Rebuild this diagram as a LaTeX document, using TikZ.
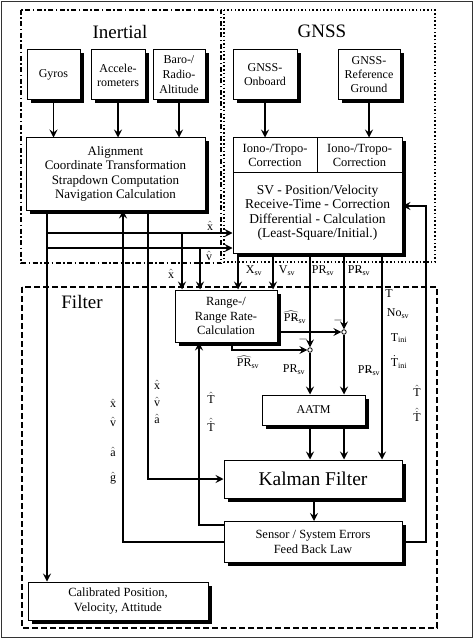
\documentclass[tikz,border=0pt]{standalone}
\usepackage{fontspec}
\setmainfont{Liberation Serif}
\usetikzlibrary{arrows.meta,shadows,calc}
\begin{document}
\begin{tikzpicture}[x=1pt,y=-1pt,
  box/.style={draw, line width=1pt, fill=white, align=center, inner sep=1pt,
    font=\fontsize{12}{14}\selectfont,
    drop shadow={shadow xshift=3.5pt,shadow yshift=-3.5pt,fill=black,opacity=1}},
  bigtxt/.style={font=\fontsize{13}{14.3}\selectfont},
  conn/.style={line width=1.1pt},
  arr/.style={conn, -{Stealth[length=8pt,width=8pt,inset=3pt]}},
  lbl/.style={font=\fontsize{12}{13}\selectfont, inner sep=0pt},
  ttl/.style={font=\fontsize{19}{20}\selectfont, inner sep=0pt},
  junc/.style={circle, draw, fill=white, line width=0.8pt, minimum size=4.5pt, inner sep=0pt},
  frameA/.style={line width=1.8pt, dash pattern=on 5pt off 2.5pt on 1.5pt off 2.5pt},
  frameB/.style={line width=1.8pt, dash pattern=on 1.5pt off 2.2pt},
  frameC/.style={line width=1.8pt, dash pattern=on 6pt off 3pt}]
\useasboundingbox (0,0) rectangle (474,639);
\draw[line width=1.5pt, black!80] (1.5,1.5) rectangle (472.5,637.5);

% group frames
\draw[frameA] (21,10) rectangle (221,263);
\draw[frameB] (224,10) rectangle (435,262);
\draw[frameC] (22,287) rectangle (437,628);
\node[ttl] (tI) at (120,32) {Inertial};
\node[ttl] (tG) at (322,31) {GNSS};
\node[ttl] (tF) at (82,302) {Filter};

% boxes
\node[box, minimum width=53pt, minimum height=50pt] (gyros) at (53.5,75) {Gyros};
\node[box, minimum width=54pt, minimum height=50pt] (accel) at (118,75) {Accele-\\rometers};
\node[box, minimum width=52pt, minimum height=50pt, font=\fontsize{12}{15}\selectfont] (baro) at (179,75) {Baro-/\\Radio-\\Altitude};
\node[box, bigtxt, minimum width=179pt, minimum height=72pt] (align) at (115.5,174) {Alignment\\Coordinate Transformation\\Strapdown Computation\\Navigation Calculation};
\node[box, minimum width=64pt, minimum height=50pt] (onboard) at (265,75) {GNSS-\\Onboard};
\node[box, minimum width=62pt, minimum height=50pt] (refground) at (369,75) {GNSS-\\Reference\\Ground};
\node[box, font=\fontsize{12.5}{14}\selectfont, minimum width=84pt, minimum height=35pt] (iono1) at (275,155.5) {Iono-/Tropo-\\Correction};
\node[box, font=\fontsize{12.5}{14}\selectfont, minimum width=85pt, minimum height=35pt] (iono2) at (359.5,155.5) {Iono-/Tropo-\\Correction};
\node[box, font=\fontsize{13.5}{14.5}\selectfont, minimum width=169pt, minimum height=80pt] (sv) at (317.5,213) {SV - Position/Velocity\\Receive-Time - Correction\\Differential - Calculation\\(Least-Square/Initial.)};
\node[box, font=\fontsize{12.5}{14.5}\selectfont, minimum width=102pt, minimum height=52pt] (range) at (226,316) {Range-/\\Range Rate-\\Calculation};
\node[box, minimum width=103pt, minimum height=30pt] (aatm) at (313.5,410) {AATM};
\node[box, minimum width=178pt, minimum height=38pt, font=\fontsize{19.5}{21}\selectfont] (kalman) at (313,479) {Kalman Filter};
\node[box, font=\fontsize{12.5}{15}\selectfont, minimum width=178pt, minimum height=41pt] (sensor) at (313,542) {Sensor / System Errors\\Feed Back Law};
\node[box, font=\fontsize{12.5}{15}\selectfont, minimum width=180pt, minimum height=38pt] (calib) at (118,601) {Calibrated Position,\\Velocity, Attitude};

% junctions
\node[junc] (j1) at (344,332) {};
\node[junc] (j2) at (310,350) {};

% sensor -> processing arrows
\draw[arr] (gyros.south) -- (gyros.south |- align.north);
\draw[arr] (accel.south) -- (accel.south |- align.north);
\draw[arr] (baro.south) -- (baro.south |- align.north);
\draw[arr] (onboard.south) -- (onboard.south |- iono1.north);
\draw[arr] (refground.south) -- (refground.south |- iono2.north);

% inertial outputs
\coordinate (cA) at (47,233);
\coordinate (cB) at (47,248);
\draw[arr] (align.south -| cA) -- (calib.north -| cA);
\draw[arr] (cA) -- (cA -| sv.west);
\draw[arr] (cB) -- (cB -| sv.west);
\coordinate (cX) at (182,233);
\coordinate (cV) at (200,248);
\draw[arr] (cX) -- (cX |- range.north);
\draw[arr] (cV) -- (cV |- range.north);
\coordinate (cK) at (148,0);
\draw[arr] (align.south -| cK) |- (kalman.west);
\coordinate (cG) at (123,0);
\draw[arr] (sensor.west) -| (align.south -| cG);
\coordinate (cT) at (199,525);
\draw[arr] (sensor.west |- cT) -| (range.south -| cT);

% GNSS outputs
\coordinate (s1) at (238,0);
\coordinate (s2) at (273,0);
\coordinate (tT) at (382,0);
\draw[arr] (sv.south -| s1) -- (range.north -| s1);
\draw[arr] (sv.south -| s2) -- (range.north -| s2);
\draw[arr] (sv.south -| j2) -- (j2.north);
\draw[arr] (sv.south -| j1) -- (j1.north);
\draw[arr] (sv.south -| tT) -- (kalman.north -| tT);
\draw[arr] (range.east |- j1) -- (j1.west);
\coordinate (r2) at (232,350);
\draw[arr] (range.south -| r2) |- (j2.west);
\draw[arr] (j1.south) -- (aatm.north -| j1);
\draw[arr] (j2.south) -- (aatm.north -| j2);
\draw[arr] (aatm.south -| j1) -- (kalman.north -| j1);
\draw[arr] (aatm.south -| j2) -- (kalman.north -| j2);
\coordinate (kk) at (314,0);
\draw[arr] (kalman.south -| kk) -- (sensor.north -| kk);
\coordinate (fb) at (426,206);
\draw[arr] (sensor.east) -| (fb) -- (fb -| sv.east);

% labels
\node[lbl] (lx1) at (210,226) {$\hat{\mathrm{x}}$};
\node[lbl] (lv1) at (209,256) {$\hat{\mathrm{v}}$};
\node[lbl] (lx2) at (171,274) {$\hat{\mathrm{x}}$};
\node[lbl] (lXsv) at (254,271) {$\mathrm{X}_{\mathrm{sv}}$};
\node[lbl] (lVsv) at (287,271) {$\mathrm{V}_{\mathrm{sv}}$};
\node[lbl] (lPR1) at (323,271) {$\mathrm{PR}_{\mathrm{sv}}$};
\node[lbl] (lPR2) at (359,271) {$\mathrm{P\dot{R}}_{\mathrm{sv}}$};
\node[lbl] (lT) at (389,294) {T};
\node[lbl] (lNo) at (398,314) {$\mathrm{No}_{\mathrm{sv}}$};
\node[lbl] (lTi) at (399,338) {$\mathrm{T}_{\mathrm{ini}}$};
\node[lbl] (lTid) at (399,362) {$\dot{\mathrm{T}}_{\mathrm{ini}}$};
\node[lbl] (lPRh1) at (295,317) {$\widehat{\mathrm{P\dot{R}}}_{\mathrm{sv}}$};
\node[lbl] (lm1) at (338,320) {$-$};
\node[lbl] (lm2) at (303,339) {$-$};
\node[lbl] (lPRh2) at (248,362) {$\widehat{\mathrm{PR}}_{\mathrm{sv}}$};
\node[lbl] (lPR3) at (294,370) {$\mathrm{PR}_{\mathrm{sv}}$};
\node[lbl] (lPR4) at (369,371) {$\mathrm{P\dot{R}}_{\mathrm{sv}}$};
\node[lbl] (lTh1) at (417,391) {$\hat{\mathrm{T}}$};
\node[lbl] (lTh2) at (417,415) {$\hat{\dot{\mathrm{T}}}$};
\node[lbl] (lTh3) at (211,398) {$\hat{\mathrm{T}}$};
\node[lbl] (lTh4) at (211,425) {$\hat{\dot{\mathrm{T}}}$};
\node[lbl] (lk1) at (157,385) {$\hat{\mathrm{x}}$};
\node[lbl] (lk2) at (157,402) {$\hat{\mathrm{v}}$};
\node[lbl] (lk3) at (157,419) {$\hat{\mathrm{a}}$};
\node[lbl] (lg1) at (113,403) {$\hat{\mathrm{x}}$};
\node[lbl] (lg2) at (113,422) {$\hat{\mathrm{v}}$};
\node[lbl] (lg3) at (113,452) {$\hat{\mathrm{a}}$};
\node[lbl] (lg4) at (113,478) {$\hat{\mathrm{g}}$};
\end{tikzpicture}
\end{document}
